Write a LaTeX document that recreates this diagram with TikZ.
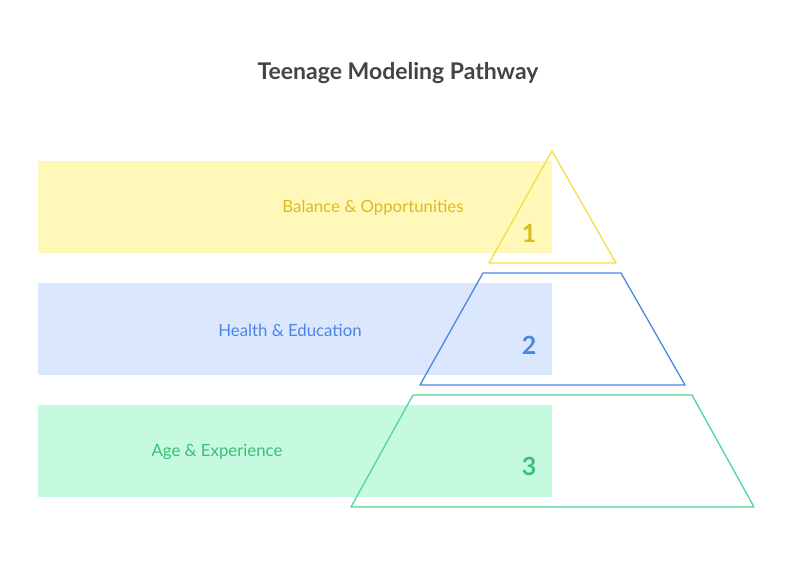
\documentclass[tikz,border=0pt]{standalone}
\usepackage{fontspec}
\setmainfont{Lato}
\usepackage{tikz}

\definecolor{yelfill}{HTML}{FFF8B9}
\definecolor{yelline}{HTML}{F4DE45}
\definecolor{yeltext}{HTML}{DDBB1E}
\definecolor{blufill}{HTML}{DBE7FC}
\definecolor{bluline}{HTML}{4A86E8}
\definecolor{blutext}{HTML}{4A86E8}
\definecolor{grnfill}{HTML}{C5FAE0}
\definecolor{grnline}{HTML}{4BDA94}
\definecolor{grntext}{HTML}{3CBE7A}
\definecolor{titletext}{HTML}{444444}

\tikzset{
    band/.style={fill=#1fill, draw=none},
    tier/.style={draw=#1line, line width=1.3pt, line join=round},
    lbl/.style={text=#1text, font=\fontsize{16.8}{19}\selectfont},
    num/.style={text=#1text, font=\fontsize{25}{27}\selectfont\bfseries}
}

\begin{document}
\begin{tikzpicture}[x=1pt,y=-1pt]
            \useasboundingbox[fill=white] (0,0) rectangle (792,564);
            \node[text=titletext,font=\fontsize{23}{25}\selectfont\bfseries] (title) at (398,73) {Teenage Modeling Pathway};
            % bands behind the pyramid
            \foreach \c/\y in {yel/161, blu/283, grn/405}
                \fill[band=\c] (38,\y) rectangle (552,\y+92);
            % pyramid tiers
            \draw[tier=yel] (552,151) -- (616,263) -- (489,263) -- cycle;
            \draw[tier=blu] (483,273) -- (621,273) -- (685,385) -- (420,385) -- cycle;
            \draw[tier=grn] (413,395) -- (692,395) -- (754,507) -- (351,507) -- cycle;
            % labels and numbers
            \node[lbl=yel] (balance) at (373,208) {Balance \& Opportunities};
            \node[lbl=blu] (health) at (290,330) {Health \& Education};
            \node[lbl=grn] (age) at (217,452) {Age \& Experience};
            \foreach \c/\n/\y in {yel/1/233, blu/2/345, grn/3/466}
                \node[num=\c] (num\n) at (529,\y) {\n};
        \end{tikzpicture}
\end{document}
